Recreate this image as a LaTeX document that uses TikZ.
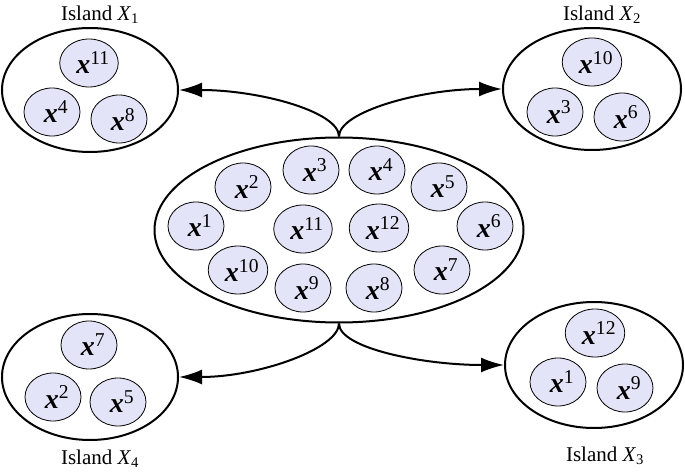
\documentclass[tikz,border=0pt]{standalone}
\usepackage{fontspec}
\setmainfont{Liberation Serif}
\usetikzlibrary{shapes.geometric, arrows.meta}
\definecolor{solfill}{RGB}{228,228,248}
\newcommand{\xsol}[1]{\hspace*{8pt}{\bfseries\itshape x}\textsuperscript{#1}}

\begin{document}
\begin{tikzpicture}[x=1pt, y=-1pt,
    sol/.style={draw, ellipse, fill=solfill, line width=0.8pt, minimum width=56pt, minimum height=48pt, inner sep=0pt, font=\fontsize{28}{30}\selectfont},
    pop/.style={draw, ellipse, line width=2pt, inner sep=0pt},
    arr/.style={line width=2pt, -{Latex[length=23pt, width=15pt]}},
    lab/.style={font=\fontsize{21}{24}\selectfont}]
              \useasboundingbox (0,0) rectangle (685,473);

              % Populations
              \node[pop, minimum width=369pt, minimum height=185pt] (main) at (339, 230) {};
              \node[pop, minimum width=176pt, minimum height=124pt] (i1) at (90, 90) {};
              \node[pop, minimum width=178pt, minimum height=122pt] (i2) at (592, 89) {};
              \node[pop, minimum width=178pt, minimum height=126pt] (i3) at (594, 365) {};
              \node[pop, minimum width=176pt, minimum height=126pt] (i4) at (90, 377) {};

              \node[lab] (l1) at (100, 15) {Island \textit{X}\textsubscript{1}};
              \node[lab] (l2) at (602, 15) {Island \textit{X}\textsubscript{2}};
              \node[lab] (l3) at (605, 456) {Island \textit{X}\textsubscript{3}};
              \node[lab] (l4) at (100, 459) {Island \textit{X}\textsubscript{4}};

              % Solutions
              \node[sol] (m1) at (196, 226) {\xsol{1}};
              \node[sol] (m2) at (243, 187) {\xsol{2}};
              \node[sol] (m3) at (311, 170) {\xsol{3}};
              \node[sol] (m4) at (377, 170) {\xsol{4}};
              \node[sol] (m5) at (439, 187) {\xsol{5}};
              \node[sol] (m6) at (485, 226) {\xsol{6}};
              \node[sol] (m7) at (442, 270) {\xsol{7}};
              \node[sol] (m8) at (374, 288) {\xsol{8}};
              \node[sol] (m9) at (303, 288) {\xsol{9}};
              \node[sol] (m10) at (238, 270) {\xsol{10}};
              \node[sol] (m11) at (303, 229) {\xsol{11}};
              \node[sol] (m12) at (379, 228) {\xsol{12}};

              \node[sol] (a11) at (89, 63) {\xsol{11}};
              \node[sol] (a4) at (52, 112) {\xsol{4}};
              \node[sol] (a8) at (119, 119) {\xsol{8}};

              \node[sol] (b10) at (592, 62) {\xsol{10}};
              \node[sol] (b3) at (555, 112) {\xsol{3}};
              \node[sol] (b6) at (622, 117) {\xsol{6}};

              \node[sol] (c12) at (595, 333) {\xsol{12}};
              \node[sol] (c1) at (558, 382) {\xsol{1}};
              \node[sol] (c9) at (625, 388) {\xsol{9}};

              \node[sol] (d7) at (89, 345) {\xsol{7}};
              \node[sol] (d2) at (53, 397) {\xsol{2}};
              \node[sol] (d5) at (118, 402) {\xsol{5}};

              % Migration
              \draw[arr] (main.north) to[out=90, in=0, out distance=25pt, in distance=80pt] (i1.east);
              \draw[arr] (main.north) to[out=90, in=180, out distance=25pt, in distance=80pt] (i2.west);
              \draw[arr] (main.south) to[out=-90, in=180, out distance=25pt, in distance=80pt] (i3.west);
              \draw[arr] (main.south) to[out=-90, in=0, out distance=25pt, in distance=80pt] (i4.east);
\end{tikzpicture}
\end{document}
